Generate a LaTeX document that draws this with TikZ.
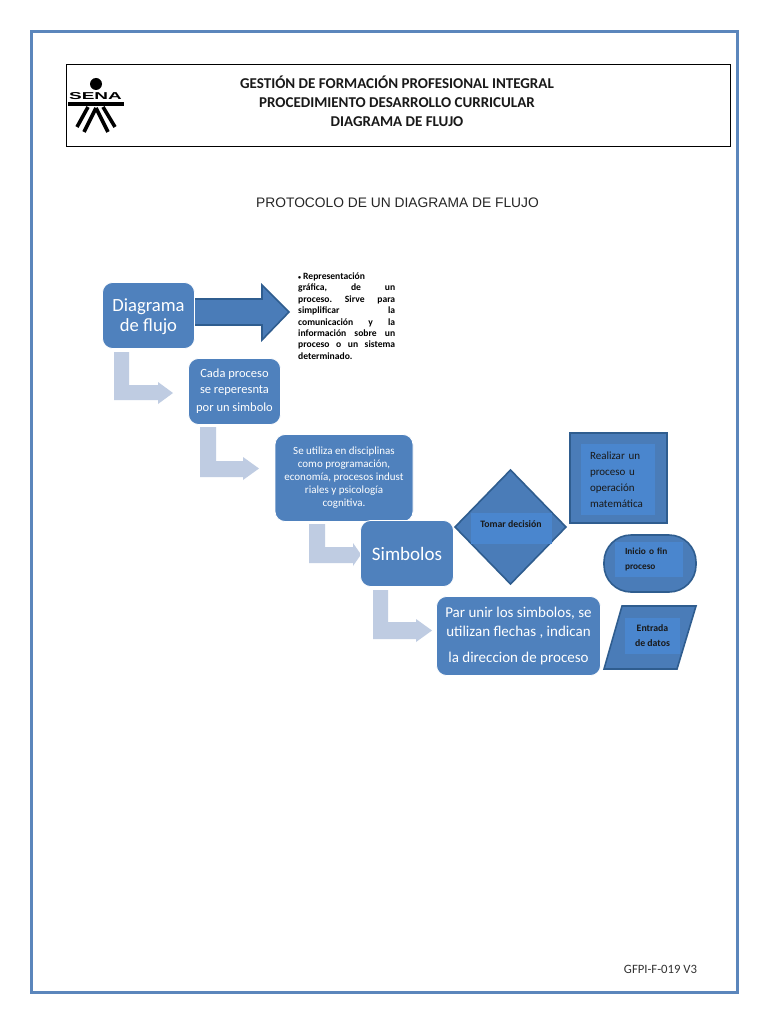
\documentclass[tikz,border=0pt]{standalone}
\usepackage{fontspec}
\setmainfont{Carlito}
\newfontfamily\arialfont{Liberation Sans}
\definecolor{frameblue}{HTML}{5B86BC}
\definecolor{boxblue}{HTML}{4F81BD}
\definecolor{shapeblue}{HTML}{4A7CB8}
\definecolor{edgeblue}{HTML}{2F5D8F}
\definecolor{innerblue}{HTML}{4A86CE}
\definecolor{paleblue}{HTML}{BFCCE2}
\newcommand{\bentarrow}[8]{% x1 x2 ytop yhoriz ybottom xhead yheadtop yheadbot
  \fill[paleblue] (#1,#3) -- (#2,#3) -- (#2,#4) -- (#6,#4) -- (#6,#7) -- (\tipx,{(#7+#8)/2}) -- (#6,#8) -- (#6,#5) -- (#1,#5) -- cycle;}
\begin{document}
\begin{tikzpicture}[x=1pt,y=-1pt,
  flowbox/.style={draw=white,line width=0.8pt,fill=boxblue,rounded corners=10pt,text=white,align=center,inner sep=0pt},
  symbol/.style={draw=edgeblue,line width=1.6pt,fill=shapeblue},
  inner/.style={fill=innerblue,inner ysep=0pt,align=left,text=black!90},
  logopart/.style={line width=3.6pt,draw=black}]
\useasboundingbox (0,0) rectangle (768,1024);
\fill[white] (0,0) rectangle (768,1024);
\node[draw=frameblue,line width=3pt,minimum width=706pt,minimum height=960pt,inner sep=0pt] (frame) at (384,512) {};
\node[draw=black,line width=0.9pt,minimum width=664pt,minimum height=82pt,inner sep=0pt] (header) at (398,105) {};
% logo
\fill[black] (96,84) circle (6);
\node[inner sep=0pt] (sena) at (95.5,96.5) {\arialfont\bfseries\fontsize{10}{10}\selectfont\addfontfeature{FakeStretch=1.9}SENA};
\fill[black] (68,102.5) rectangle (124,106.5);
\draw[logopart] (88,107) -- (77,127);
\draw[logopart] (96,108) -- (84,132);
\draw[logopart] (96,108) -- (108,132);
\draw[logopart] (103,107) -- (115,127);
% titles
\node[font=\fontsize{15}{19}\selectfont\bfseries,align=center,text=black!90,inner sep=0pt] (title) at (397,101) {GESTIÓN DE FORMACIÓN PROFESIONAL INTEGRAL\\PROCEDIMIENTO DESARROLLO CURRICULAR\\DIAGRAMA DE FLUJO};
\node[font=\arialfont\fontsize{13.8}{17}\selectfont,text=black!85,inner sep=0pt] (subtitle) at (397.5,203) {PROTOCOLO DE UN DIAGRAMA DE FLUJO};
% bent arrows
\def\tipx{173}\bentarrow{114}{129}{352}{385}{400}{158}{382}{404}
\def\tipx{259}\bentarrow{200}{216}{427}{461}{477}{243}{457}{480}
\def\tipx{361}\bentarrow{309}{325}{524}{547}{563}{353}{543}{566}
\def\tipx{432}\bentarrow{373}{388}{590}{622}{639}{416}{619}{642}
% big arrow
\draw[symbol] (190,299) -- (262,299) -- (262,285) -- (289,312) -- (262,340) -- (262,325) -- (190,325) -- cycle;
% boxes
\node[flowbox,minimum width=92pt,minimum height=66pt,font=\fontsize{18.6}{20.5}\selectfont] (flujo) at (148.5,315.5) {\rule{0pt}{15pt}Diagrama\\de flujo};
\node[flowbox,minimum width=92pt,minimum height=66pt,font=\fontsize{12.5}{16}\selectfont] (cada) at (234.5,391.5) {Cada proceso\\se reperesnta\\[2pt]por un simbolo};
\node[flowbox,minimum width=138pt,minimum height=87pt,font=\fontsize{11}{13}\selectfont] (utiliza) at (344,478) {Se utiliza en disciplinas\\como programación,\\economía, procesos indust\\riales y psicología\\cognitiva.};
\node[flowbox,minimum width=93pt,minimum height=66pt,font=\fontsize{19}{22}\selectfont] (simb) at (407,553.5) {Simbolos};
\node[flowbox,minimum width=164pt,minimum height=79pt,font=\fontsize{15}{18.5}\selectfont] (par) at (518.5,636) {Par unir los simbolos, se\\utilizan flechas , indican\\[8pt]la direccion de proceso};
% bullet text
\node[inner sep=0pt,text width=97pt,align=justify,anchor=north west,font=\fontsize{9.6}{11.4}\selectfont\bfseries] (desc) at (298,272.5) {\tolerance=9999\hbadness=10000\hangindent=5pt\hangafter=1\leavevmode\hbox to 5pt{\fontsize{6}{6}\selectfont\textbullet\hss}Representación\\gráfica,\hfill de\hfill un\\proceso.\hfill Sirve\hfill para\\simplificar\hfill la\\comunicación\hfill y\hfill la\\información\hfill sobre\hfill un\\proceso\hfill o\hfill un\hfill sistema\\determinado.};
% symbols
\node[symbol,draw,shape=rectangle,minimum width=97pt,minimum height=90pt,inner sep=0pt] (rect) at (618.5,478) {};
\node[inner,inner xsep=9pt,minimum height=71pt,text width=56pt,font=\fontsize{11}{16}\selectfont] (recttext) at (618,479.5) {Realizar un\\proceso u\\operación\\matemática};
\draw[symbol] (510.5,470) -- (566,527) -- (510.5,584) -- (455,527) -- cycle;
\node[inner,inner sep=0pt,minimum width=81pt,minimum height=31pt] (decbox) at (511.5,528.5) {};
\node[font=\fontsize{9.8}{10}\selectfont\bfseries,inner sep=0pt,text=black!90] (declabel) at (511,524) {Tomar decisión};
\node[symbol,draw,minimum width=92pt,minimum height=57pt,rounded corners=27pt,inner sep=0pt] (stad) at (650,563.5) {};
\node[inner,inner xsep=10pt,minimum height=35pt,text width=48pt,font=\fontsize{9.3}{14.5}\selectfont\bfseries] (stadtext) at (649,559.5) {Inicio o fin\\proceso};
\draw[symbol] (622,606) -- (696,606) -- (677,669) -- (604,669) -- cycle;
\node[inner,inner xsep=0pt,minimum width=55pt,minimum height=36pt,font=\fontsize{9.8}{14.5}\selectfont\bfseries,align=center] (paratext) at (652.5,635.5) {Entrada\\de datos};
% footer
\node[font=\fontsize{12.7}{14}\selectfont,text=black!80,inner sep=0pt] (code) at (660.5,969.5) {GFPI-F-019 V3};
\end{tikzpicture}
\end{document}
